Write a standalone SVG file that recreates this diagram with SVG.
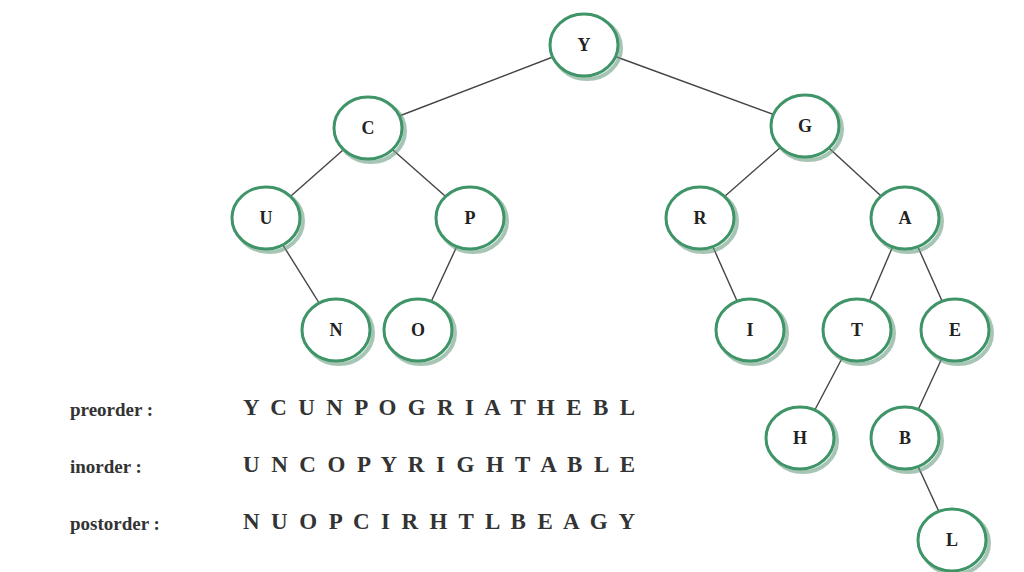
<svg xmlns="http://www.w3.org/2000/svg" width="1024" height="572" viewBox="0 0 1024 572">
<style>
.n ellipse.s{fill:none;stroke:#6c9e84;stroke-width:4;opacity:.6}
.n ellipse.c{fill:#fff;stroke:#3f9468;stroke-width:3}
.n text{font-family:"Liberation Serif",serif;font-weight:bold;font-size:18px;fill:#222;text-anchor:middle;dominant-baseline:central}
#edges line{stroke:#444;stroke-width:1.4}
.t{font-family:"Liberation Serif",serif;font-weight:bold;font-size:19px;fill:#333}
.q{font-family:"Liberation Serif",serif;font-weight:bold;font-size:23px;fill:#333}
</style>
<rect width="1024" height="572" fill="#fff"/>
<g id="edges">
<line x1="584" y1="45" x2="368" y2="128"/><line x1="584" y1="45" x2="805" y2="126"/>
<line x1="368" y1="128" x2="266" y2="218"/><line x1="368" y1="128" x2="470" y2="218"/>
<line x1="266" y1="218" x2="336" y2="330"/><line x1="470" y1="218" x2="418" y2="330"/>
<line x1="805" y1="126" x2="700" y2="218"/><line x1="805" y1="126" x2="905" y2="218"/>
<line x1="700" y1="218" x2="750" y2="330"/><line x1="905" y1="218" x2="857" y2="330"/>
<line x1="905" y1="218" x2="955" y2="330"/><line x1="857" y1="330" x2="800" y2="438"/>
<line x1="955" y1="330" x2="905" y2="438"/><line x1="905" y1="438" x2="952" y2="540"/>
</g>
<g id="Y" class="n"><ellipse class="s" cx="587" cy="48" rx="34" ry="31"/><ellipse class="c" cx="584" cy="45" rx="34" ry="31"/><text x="584" y="45">Y</text></g>
<g id="C" class="n"><ellipse class="s" cx="371" cy="131" rx="34" ry="31"/><ellipse class="c" cx="368" cy="128" rx="34" ry="31"/><text x="368" y="128">C</text></g>
<g id="G" class="n"><ellipse class="s" cx="808" cy="129" rx="34" ry="31"/><ellipse class="c" cx="805" cy="126" rx="34" ry="31"/><text x="805" y="126">G</text></g>
<g id="U" class="n"><ellipse class="s" cx="269" cy="221" rx="34" ry="31"/><ellipse class="c" cx="266" cy="218" rx="34" ry="31"/><text x="266" y="218">U</text></g>
<g id="P" class="n"><ellipse class="s" cx="473" cy="221" rx="34" ry="31"/><ellipse class="c" cx="470" cy="218" rx="34" ry="31"/><text x="470" y="218">P</text></g>
<g id="R" class="n"><ellipse class="s" cx="703" cy="221" rx="34" ry="31"/><ellipse class="c" cx="700" cy="218" rx="34" ry="31"/><text x="700" y="218">R</text></g>
<g id="A" class="n"><ellipse class="s" cx="908" cy="221" rx="34" ry="31"/><ellipse class="c" cx="905" cy="218" rx="34" ry="31"/><text x="905" y="218">A</text></g>
<g id="N" class="n"><ellipse class="s" cx="339" cy="333" rx="34" ry="31"/><ellipse class="c" cx="336" cy="330" rx="34" ry="31"/><text x="336" y="330">N</text></g>
<g id="O" class="n"><ellipse class="s" cx="421" cy="333" rx="34" ry="31"/><ellipse class="c" cx="418" cy="330" rx="34" ry="31"/><text x="418" y="330">O</text></g>
<g id="I" class="n"><ellipse class="s" cx="753" cy="333" rx="34" ry="31"/><ellipse class="c" cx="750" cy="330" rx="34" ry="31"/><text x="750" y="330">I</text></g>
<g id="T" class="n"><ellipse class="s" cx="860" cy="333" rx="34" ry="31"/><ellipse class="c" cx="857" cy="330" rx="34" ry="31"/><text x="857" y="330">T</text></g>
<g id="E" class="n"><ellipse class="s" cx="958" cy="333" rx="34" ry="31"/><ellipse class="c" cx="955" cy="330" rx="34" ry="31"/><text x="955" y="330">E</text></g>
<g id="H" class="n"><ellipse class="s" cx="803" cy="441" rx="34" ry="31"/><ellipse class="c" cx="800" cy="438" rx="34" ry="31"/><text x="800" y="438">H</text></g>
<g id="B" class="n"><ellipse class="s" cx="908" cy="441" rx="34" ry="31"/><ellipse class="c" cx="905" cy="438" rx="34" ry="31"/><text x="905" y="438">B</text></g>
<g id="L" class="n"><ellipse class="s" cx="955" cy="543" rx="34" ry="31"/><ellipse class="c" cx="952" cy="540" rx="34" ry="31"/><text x="952" y="540">L</text></g>
<text class="t" x="70" y="416">preorder :</text>
<text class="t" x="70" y="473">inorder :</text>
<text class="t" x="70" y="530">postorder :</text>
<text class="q" x="243" y="415" textLength="392" lengthAdjust="spacing">Y C U N P O G R I A T H E B L</text>
<text class="q" x="243" y="472" textLength="392" lengthAdjust="spacing">U N C O P Y R I G H T A B L E</text>
<text class="q" x="243" y="529" textLength="392" lengthAdjust="spacing">N U O P C I R H T L B E A G Y</text>
</svg>
